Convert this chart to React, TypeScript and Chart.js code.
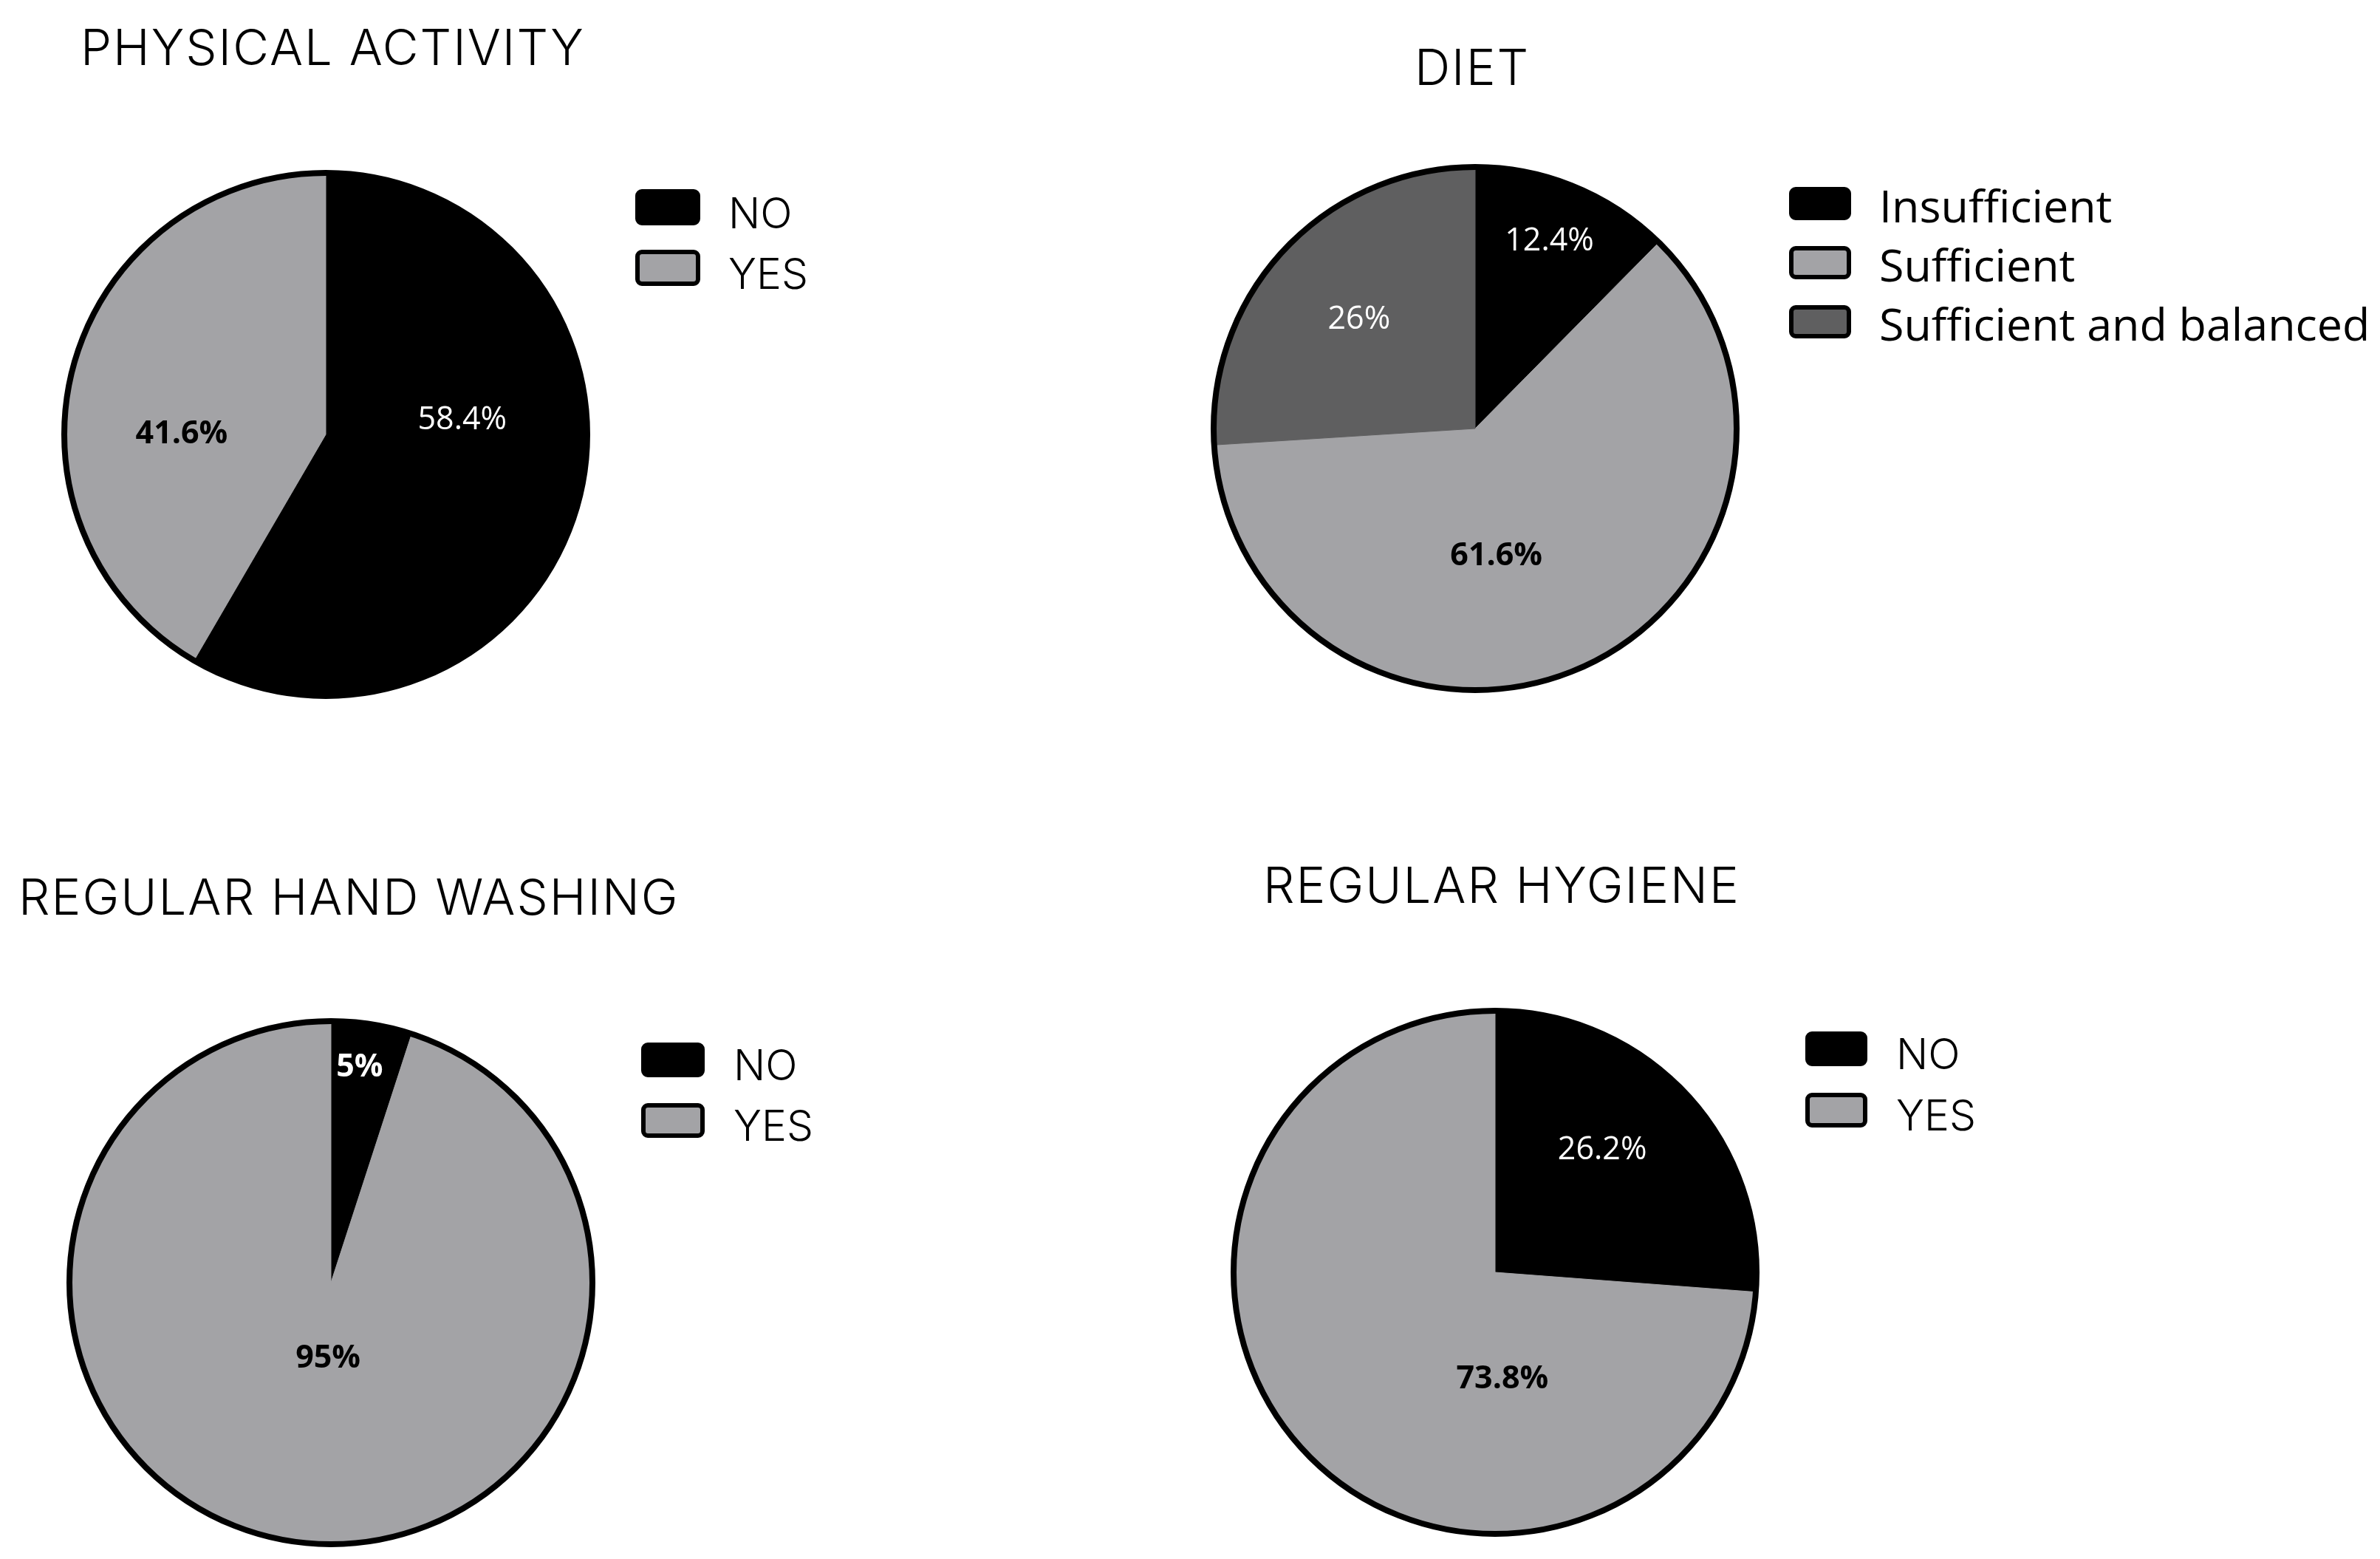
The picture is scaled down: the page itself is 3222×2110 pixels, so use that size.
import React, { useEffect, useRef } from "react";
import { Chart, registerables } from "chart.js";

Chart.register(...registerables);

// ---------- data ----------
const activityLabels = ["NO", "YES"];
const activityValues = [58.4, 41.6];

const dietLabels = ["Insufficient", "Sufficient", "Sufficient and balanced"];
const dietValues = [12.4, 61.6, 26];

const handLabels = ["NO", "YES"];
const handValues = [5, 95];

const hygieneLabels = ["NO", "YES"];
const hygieneValues = [26.2, 73.8];

// ---------- styles ----------
const BLACK = "#000000";
const LIGHT = "#a3a3a6";
const DARK = "#5f5f60";

const TITLE_FONT = '300 67px "Inter", "Lato", sans-serif';
const TITLE_SPACING = "2px";
const LEGEND_FONT = '300 57px "Inter", "Lato", sans-serif';
const DIET_LEGEND_FONT = '400 61px "Open Sans", sans-serif';
const LABEL_FONT_SIZE = 43;

type LabelStyle = { color: string; weight: number };

interface Spec {
  title: string;
  titleX: number;
  titleBaseline: number;
  titleAlign: CanvasTextAlign;
  labels: string[];
  values: number[];
  colors: string[];
  box: { left: number; top: number; width: number; height: number };
  center: { x: number; y: number };
  legend: { x: number; y: number; w: number; h: number; step: number; textX: number; textDy: number; font: string };
  labelOffsets: [number, number][];
  labelStyles: LabelStyle[];
}

const WHITE_REG: LabelStyle = { color: "#ffffff", weight: 400 };
const WHITE_BOLD: LabelStyle = { color: "#ffffff", weight: 700 };
const BLACK_BOLD: LabelStyle = { color: "#000000", weight: 700 };

const specs: Spec[] = [
  {
    title: "PHYSICAL ACTIVITY",
    titleX: 109,
    titleBaseline: 88,
    titleAlign: "left",
    labels: activityLabels,
    values: activityValues,
    colors: [BLACK, LIGHT],
    box: { left: 0, top: 0, width: 1600, height: 1060 },
    center: { x: 441, y: 588 },
    legend: { x: 863, y: 259, w: 82, h: 43, step: 82, textX: 986, textDy: 50, font: LEGEND_FONT },
    labelOffsets: [
      [0.522, -0.053],
      [-0.551, 0.0],
    ],
    labelStyles: [WHITE_REG, BLACK_BOLD],
  },
  {
    title: "DIET",
    titleX: 393,
    titleBaseline: 115,
    titleAlign: "center",
    labels: dietLabels,
    values: dietValues,
    colors: [BLACK, LIGHT, DARK],
    box: { left: 1600, top: 0, width: 1622, height: 1060 },
    center: { x: 397, y: 580 },
    legend: { x: 825, y: 256, w: 78, h: 39, step: 80, textX: 944, textDy: 45, font: DIET_LEGEND_FONT },
    labelOffsets: [
      [0.284, -0.716],
      [0.081, 0.489],
      [-0.444, -0.416],
    ],
    labelStyles: [WHITE_REG, BLACK_BOLD, WHITE_REG],
  },
  {
    title: "REGULAR HAND WASHING",
    titleX: 25,
    titleBaseline: 178,
    titleAlign: "left",
    labels: handLabels,
    values: handValues,
    colors: [BLACK, LIGHT],
    box: { left: 0, top: 1060, width: 1600, height: 1050 },
    center: { x: 448, y: 676 },
    legend: { x: 871, y: 354, w: 80, h: 41, step: 82, textX: 993, textDy: 48, font: LEGEND_FONT },
    labelOffsets: [
      [0.11, -0.823],
      [-0.011, 0.289],
    ],
    labelStyles: [WHITE_BOLD, BLACK_BOLD],
  },
  {
    title: "REGULAR HYGIENE",
    titleX: 110,
    titleBaseline: 162,
    titleAlign: "left",
    labels: hygieneLabels,
    values: hygieneValues,
    colors: [BLACK, LIGHT],
    box: { left: 1600, top: 1060, width: 1622, height: 1050 },
    center: { x: 424, y: 662 },
    legend: { x: 847, y: 339, w: 78, h: 41, step: 83, textX: 967, textDy: 48, font: LEGEND_FONT },
    labelOffsets: [
      [0.41, -0.466],
      [0.028, 0.41],
    ],
    labelStyles: [WHITE_REG, BLACK_BOLD],
  },
];

const PIE_RADIUS = 354;
const HALF = 370;
const OUTLINE = 8;

function PieChart({ spec }: { spec: Spec }) {
  const ref = useRef<HTMLCanvasElement | null>(null);

  useEffect(() => {
    const canvas = ref.current;
    if (!canvas) return;

    const decor = {
      id: "decor" + spec.title,
      afterDatasetsDraw(chart: any) {
        const ctx: CanvasRenderingContext2D = chart.ctx;
        const meta = chart.getDatasetMeta(0);
        const first = meta.data[0] as any;
        const cx = first.x;
        const cy = first.y;
        const r = first.outerRadius;
        ctx.save();
        ctx.beginPath();
        ctx.arc(cx, cy, r, 0, Math.PI * 2);
        ctx.lineWidth = OUTLINE;
        ctx.strokeStyle = "#000";
        ctx.stroke();
        ctx.textAlign = "center";
        ctx.textBaseline = "middle";
        meta.data.forEach((_el: any, i: number) => {
          const st = spec.labelStyles[i];
          const [fx, fy] = spec.labelOffsets[i];
          ctx.font = `${st.weight} ${LABEL_FONT_SIZE}px "Open Sans", sans-serif`;
          ctx.fillStyle = st.color;
          ctx.fillText(`${spec.values[i]}%`, cx + fx * r, cy + fy * r);
        });
        ctx.restore();
      },
      afterDraw(chart: any) {
        const ctx: CanvasRenderingContext2D = chart.ctx;
        ctx.save();
        // title
        ctx.font = TITLE_FONT;
        (ctx as any).letterSpacing = TITLE_SPACING;
        ctx.fillStyle = "#000";
        ctx.textAlign = spec.titleAlign;
        ctx.textBaseline = "alphabetic";
        ctx.fillText(spec.title, spec.titleX, spec.titleBaseline);
        (ctx as any).letterSpacing = "0px";
        // legend
        const lg = spec.legend;
        const ds = chart.data.datasets[0];
        (chart.data.labels as string[]).forEach((lab, i) => {
          const y = lg.y + i * lg.step;
          ctx.beginPath();
          (ctx as any).roundRect(lg.x, y, lg.w, lg.h, 6);
          ctx.fillStyle = (ds.backgroundColor as string[])[i];
          ctx.fill();
          ctx.lineWidth = 6;
          ctx.strokeStyle = "#000";
          ctx.stroke();
          ctx.font = lg.font;
          ctx.fillStyle = "#000";
          ctx.textAlign = "left";
          ctx.textBaseline = "alphabetic";
          ctx.fillText(lab, lg.textX, y + lg.textDy);
        });
        ctx.restore();
      },
    };

    const { width, height } = spec.box;
    const chart = new Chart(canvas, {
      type: "pie",
      data: {
        labels: spec.labels,
        datasets: [
          {
            data: spec.values,
            backgroundColor: spec.colors,
            borderColor: spec.colors,
            borderWidth: 1,
            radius: PIE_RADIUS,
          } as any,
        ],
      },
      options: {
        responsive: false,
        maintainAspectRatio: false,
        animation: false,
        events: [],
        layout: {
          padding: {
            left: spec.center.x - HALF,
            right: width - (spec.center.x + HALF),
            top: spec.center.y - HALF,
            bottom: height - (spec.center.y + HALF),
          },
        },
        plugins: {
          legend: { display: false },
          title: { display: false },
          tooltip: { enabled: false },
        },
      },
      plugins: [decor as any],
    });
    return () => chart.destroy();
  }, [spec]);

  return (
    <canvas
      ref={ref}
      width={spec.box.width}
      height={spec.box.height}
      style={{
        position: "absolute",
        left: spec.box.left,
        top: spec.box.top,
        width: spec.box.width,
        height: spec.box.height,
      }}
    />
  );
}

export default function App() {
  return (
    <div
      style={{
        position: "absolute",
        left: 0,
        top: 0,
        width: 3222,
        height: 2110,
        background: "#ffffff",
        overflow: "hidden",
      }}
    >
      {specs.map((s) => (
        <PieChart key={s.title} spec={s} />
      ))}
    </div>
  );
}
